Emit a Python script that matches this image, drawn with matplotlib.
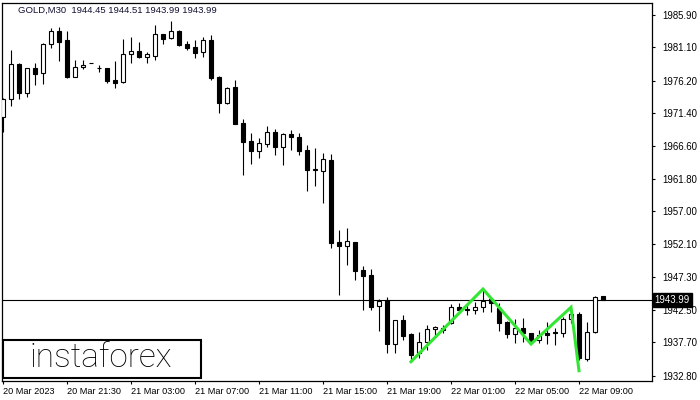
import matplotlib
matplotlib.use('Agg')
import matplotlib.pyplot as plt
from matplotlib.patches import Rectangle

# GOLD M30 candles, oldest first
opens = [1970.90, 1973.46, 1978.65, 1974.43, 1978.02, 1977.28, 1981.55, 1983.46, 1982.18, 1976.78,
         1978.16, 1978.84, 1978.02, 1978.02, 1976.30, 1976.05, 1980.08, 1980.56, 1979.72, 1979.87,
         1983.06, 1982.43, 1983.50, 1981.59, 1981.10, 1980.46, 1982.18, 1976.78, 1972.96, 1975.31,
         1969.93, 1967.28, 1965.90, 1966.84, 1968.60, 1966.48, 1968.35, 1967.87, 1966.00, 1963.12,
         1962.95, 1964.53, 1952.42, 1951.92, 1952.42, 1948.35, 1947.61, 1943.05, 1943.89, 1937.51,
         1940.99, 1938.93, 1936.10, 1937.80, 1939.63, 1939.77, 1940.51, 1942.86, 1942.57, 1942.46,
         1942.86, 1944.04, 1942.71, 1940.74, 1938.89, 1939.77, 1939.04, 1938.05, 1939.04, 1939.27,
         1939.13, 1941.10, 1941.88, 1935.26, 1939.18, 1944.45]
highs = [1973.60, 1980.71, 1978.80, 1978.10, 1978.84, 1981.78, 1983.90, 1984.14, 1983.50, 1979.24,
         1979.24, 1978.84, 1978.50, 1978.10, 1979.09, 1982.33, 1982.66, 1981.88, 1980.41, 1984.39,
         1983.10, 1984.97, 1983.60, 1982.03, 1982.18, 1982.66, 1982.91, 1976.90, 1975.20, 1976.30,
         1970.51, 1968.54, 1967.72, 1969.53, 1969.04, 1968.45, 1968.94, 1968.46, 1966.73, 1966.25,
         1965.51, 1965.41, 1954.23, 1954.48, 1952.50, 1948.94, 1948.45, 1944.04, 1944.42, 1941.00,
         1941.73, 1939.13, 1939.27, 1940.26, 1940.11, 1940.26, 1943.35, 1943.45, 1943.45, 1943.69,
         1945.41, 1944.42, 1943.45, 1940.80, 1941.10, 1941.24, 1939.10, 1939.52, 1940.74, 1939.77,
         1941.48, 1942.71, 1942.21, 1940.66, 1944.52, 1944.51]
lows = [1968.65, 1972.51, 1973.50, 1973.84, 1975.56, 1975.71, 1980.96, 1979.13, 1976.63, 1976.70,
        1977.87, 1978.84, 1977.52, 1975.90, 1975.07, 1975.90, 1978.84, 1979.58, 1978.84, 1979.24,
        1981.63, 1982.30, 1981.30, 1980.71, 1979.58, 1979.72, 1976.30, 1971.40, 1972.76, 1969.80,
        1962.32, 1963.94, 1964.87, 1966.48, 1965.26, 1963.79, 1966.00, 1965.26, 1960.01, 1960.70,
        1958.25, 1951.54, 1944.67, 1949.08, 1946.88, 1942.46, 1942.46, 1939.42, 1936.10, 1936.10,
        1938.05, 1934.86, 1935.36, 1936.58, 1938.54, 1939.04, 1940.40, 1941.98, 1941.73, 1941.88,
        1942.21, 1942.21, 1939.42, 1938.30, 1937.65, 1937.80, 1937.57, 1937.57, 1937.46, 1937.32,
        1938.45, 1940.51, 1935.11, 1935.01, 1939.10, 1943.99]
closes = [1973.46, 1978.65, 1974.43, 1978.02, 1977.13, 1981.59, 1983.46, 1981.93, 1976.78, 1978.16,
          1978.50, 1978.84, 1978.02, 1976.19, 1975.90, 1980.12, 1980.56, 1979.72, 1980.12, 1983.06,
          1982.33, 1983.50, 1981.44, 1981.00, 1980.31, 1982.18, 1976.54, 1972.96, 1975.07, 1969.87,
          1967.22, 1965.90, 1966.98, 1968.60, 1966.48, 1968.35, 1967.87, 1965.90, 1963.06, 1963.12,
          1964.63, 1952.36, 1951.92, 1952.61, 1948.24, 1947.51, 1942.95, 1943.79, 1937.51, 1940.95,
          1938.64, 1935.85, 1937.80, 1939.63, 1939.92, 1939.52, 1942.86, 1942.46, 1942.46, 1942.86,
          1943.83, 1943.45, 1940.60, 1938.89, 1939.77, 1939.04, 1937.90, 1938.79, 1938.79, 1939.04,
          1941.10, 1941.88, 1935.36, 1939.18, 1944.33, 1943.99]

# pattern zigzag (bar index, price)
zz_bars = [51, 60, 66, 71, 72]
zz_prices = [1934.86, 1945.55, 1937.46, 1942.86, 1933.53]

last_price = 1943.99
price_ticks = [1985.90, 1981.10, 1976.20, 1971.40, 1966.60, 1961.80, 1957.00, 1952.10,
               1947.30, 1942.50, 1937.70, 1932.80]
time_labels = ['20 Mar 2023', '20 Mar 21:30', '21 Mar 03:00', '21 Mar 07:00', '21 Mar 11:00',
               '21 Mar 15:00', '21 Mar 19:00', '22 Mar 01:00', '22 Mar 05:00', '22 Mar 09:00']
title = 'GOLD,M30  1944.45 1944.51 1943.99 1943.99'

font = ['Liberation Sans Narrow', 'Liberation Sans', 'DejaVu Sans']
plt.rcParams['font.family'] = font

W, H = 700, 400
fig = plt.figure(figsize=(7, 4), dpi=100)
fig.patch.set_facecolor('white')

# chart area in pixels: x 2..652, y 3..381 from top
ax = fig.add_axes([2 / W, 1 - 381 / H, 650 / W, 378 / H])
ax.set_xlim(-0.125, 81.125)
ax.set_ylim(1932.02, 1987.62)

n = len(opens)
bars = list(range(n))

# wicks
ax.vlines(bars, lows, highs, color='black', linewidth=0.8, zorder=2)

# bodies
up = [c >= o for o, c in zip(opens, closes)]
bottoms = [min(o, c) for o, c in zip(opens, closes)]
heights = [max(abs(c - o), 0.02) for o, c in zip(opens, closes)]
ax.bar(bars, heights, bottom=bottoms, width=0.62,
       color=['white' if u else 'black' for u in up],
       edgecolor='black', linewidth=0.8, zorder=3)

# current price line
ax.axhline(last_price, color='black', linewidth=0.8, zorder=1)

# zigzag
ax.plot(zz_bars, zz_prices, color='#33e633', linewidth=2.2, zorder=4, solid_joinstyle='miter')

# axes style
for side in ['left', 'right', 'top', 'bottom']:
    ax.spines[side].set_linewidth(0.9)
ax.yaxis.tick_right()
ax.set_yticks(price_ticks)
ax.set_yticklabels(['%.2f' % p for p in price_ticks])
ax.set_xticks(bars[::8])
ax.set_xticklabels(time_labels, ha='left')
ax.tick_params(axis='y', length=2.5, width=0.8, pad=5, labelsize=6.9)
ax.tick_params(axis='x', length=2.5, width=0.8, pad=1.5, labelsize=6.6)

# header text
fig.text(18 / W, 1 - 10 / H, title, fontsize=6.8, color='#111133', va='center', ha='left')

# current price label on the scale
ax.annotate('%.2f' % last_price, xy=(1.0, last_price), xycoords=('axes fraction', 'data'),
            xytext=(2, 0), textcoords='offset points', ha='left', va='center',
            fontsize=6.9, color='white',
            bbox=dict(boxstyle='square,pad=0.2', fc='black', ec='black'), zorder=6,
            annotation_clip=False)

# logo box
fig.add_artist(Rectangle((3 / W, 1 - 378 / H), 198 / W, 38 / H, transform=fig.transFigure,
                         facecolor='white', edgecolor='black', linewidth=1.5, zorder=5))
fig.text(101 / W, 1 - 358 / H, 'instaforex', fontsize=24, family=['Roboto', 'Lato', 'DejaVu Sans'],
         fontweight='light', color='black', ha='center', va='center', zorder=6)

fig.savefig('out.png', dpi=100, facecolor='white')
